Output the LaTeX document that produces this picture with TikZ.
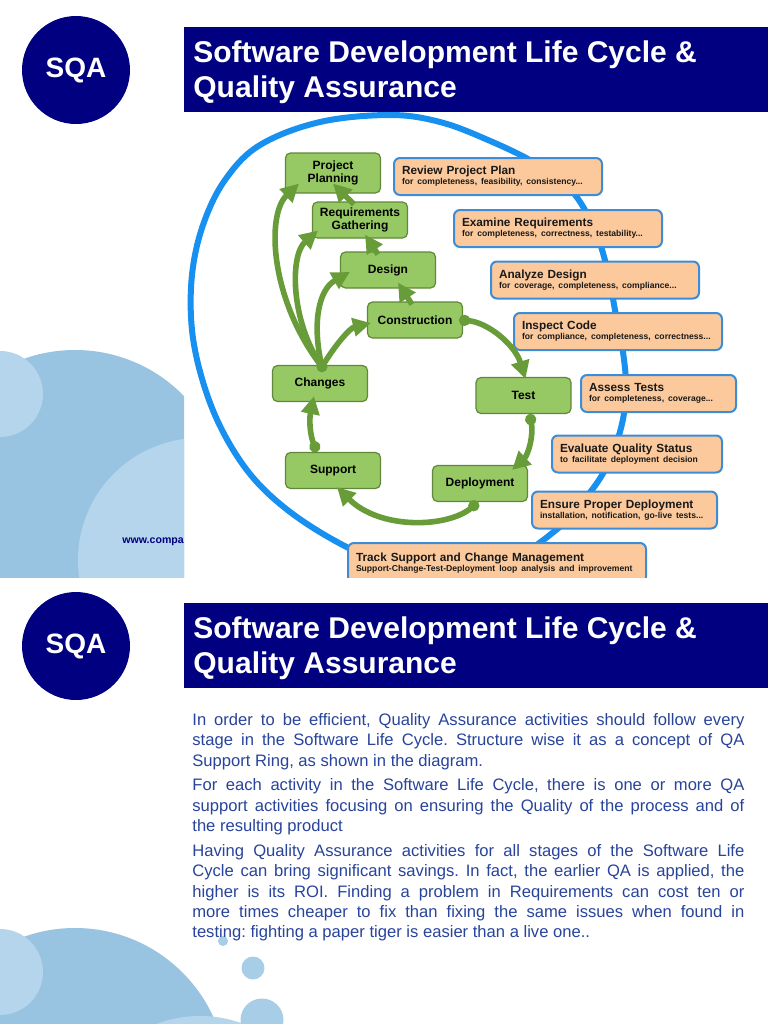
\documentclass[tikz,border=0pt]{standalone}
\usepackage{fontspec}
\setmainfont{Liberation Sans}
\usetikzlibrary{arrows.meta, calc}

\definecolor{sqanavy}{RGB}{0,0,128}
\definecolor{ringblue}{RGB}{24,144,240}
\definecolor{stagefill}{RGB}{150,200,100}
\definecolor{stageline}{RGB}{96,136,56}
\definecolor{flowgreen}{RGB}{104,156,56}
\definecolor{qafill}{RGB}{251,201,155}
\definecolor{qaline}{RGB}{60,140,215}
\definecolor{bubblemid}{RGB}{152,196,226}
\definecolor{bubblelight}{RGB}{180,213,235}
\definecolor{bodyblue}{RGB}{40,68,155}

\newcommand{\qasub}[1]{\mbox{\fontsize{4.3}{5}\selectfont\bfseries #1}}

\frenchspacing
\begin{document}
\begin{tikzpicture}[
  x=0.5pt, y=-0.5pt,
  badge/.style={circle, fill=sqanavy, minimum size=54pt, inner sep=0pt,
    text=white, font=\fontsize{14}{16}\selectfont\bfseries},
  banner/.style={fill=sqanavy, anchor=north west, inner sep=0pt,
    minimum width=292pt, minimum height=42.5pt},
  headline/.style={anchor=north west, inner sep=0pt, align=left, text=white,
    font=\fontsize{15}{17.5}\selectfont\bfseries},
  stage/.style={draw=stageline, fill=stagefill, line width=0.6pt,
    rounded corners=2.5pt, minimum width=47.5pt, minimum height=18pt,
    inner sep=1pt, align=center, font=\fontsize{6}{6.2}\selectfont\bfseries},
  qa/.style={draw=qaline, fill=qafill, line width=1pt, rounded corners=3pt,
    inner xsep=4pt, inner ysep=0pt, minimum height=18.5pt, text width=#1,
    align=left, text=black!90, font=\fontsize{5.9}{6.5}\selectfont\bfseries},
  ring/.style={draw=ringblue, line width=3pt},
  flow/.style={draw=flowgreen, line width=2.8pt,
    arrows={-Triangle[length=9pt,width=9pt]}},
  dotflow/.style={flow, arrows={Circle[length=5.5pt]-Triangle[length=9pt,width=9pt]}},
]

\useasboundingbox (0,0) rectangle (768,1024);
\fill[white] (0,0) rectangle (768,1024);

% ---- slide one: backdrop bubbles and header -------------------------------
\begin{scope}
  \clip (0,0) rectangle (184,577);
  \fill[bubblemid] (75,502) circle[radius=152];
  \fill[bubblelight] (0,394) circle[radius=43];
  \fill[bubblelight] (200,560) circle[radius=122];
\end{scope}
\node[anchor=west, inner sep=0pt, text=sqanavy,
  font=\fontsize{5.3}{6}\selectfont\bfseries] (web) at (122,542) {www.compa};

\node[badge] (sqatop) at (76,70) {SQA};
\node[banner] (bartop) at (184,27) {};
\node[headline] (titletop) at (193,40)
  {Software Development Life Cycle \&\\Quality Assurance};

% ---- the QA support ring ----------------------------------------------------
\begin{scope}
  \clip (184,112) rectangle (768,577);
  \draw[ring] plot[smooth cycle, tension=0.6] coordinates {
    (390,115) (440,122) (488,140) (535,163) (571,190) (594,228) (607,268)
    (615,310) (623,352) (626,390) (621,428) (606,468) (584,500) (556,530)
    (510,560) (440,580) (380,562) (330,538) (285,508) (250,474) (222,430)
    (203,382) (192,330) (192,275) (203,225) (225,180) (260,145) (320,122)};

  \node[qa=96pt] (rev) at (498,176.5)
    {Review Project Plan\\[-1.5pt]\qasub{for completeness, feasibility, consistency...}};
  \node[qa=96pt] (exa) at (558,228.5)
    {Examine Requirements\\[-1.5pt]\qasub{for completeness, correctness, testability...}};
  \node[qa=96pt] (ana) at (595,280)
    {Analyze Design\\[-1.5pt]\qasub{for coverage, completeness, compliance...}};
  \node[qa=96pt] (ins) at (618,331.5)
    {Inspect Code\\[-1.5pt]\qasub{for compliance, completeness, correctness...}};
  \node[qa=69.5pt] (ass) at (658.5,393.5)
    {Assess Tests\\[-1.5pt]\qasub{for completeness, coverage...}};
  \node[qa=77pt] (eva) at (637,454)
    {Evaluate Quality Status\\[-1.5pt]\qasub{to facilitate deployment decision}};
  \node[qa=84.5pt] (ens) at (624.5,510)
    {Ensure Proper Deployment\\[-1.5pt]\qasub{installation, notification, go-live tests...}};
  \node[qa=141pt, minimum height=20pt] (trk) at (497,563)
    {Track Support and Change Management\\[-1.5pt]\qasub{Support-Change-Test-Deployment loop analysis and improvement}};

  % ---- life cycle stages ----------------------------------------------------
  \node[stage, minimum height=20pt] (plan) at (333,173) {Project\\Planning};
  \node[stage] (req)  at (360,220)   {Requirements\\Gathering};
  \node[stage] (des)  at (388,270)   {Design};
  \node[stage] (con)  at (415,320)   {Construction};
  \node[stage] (chg)  at (320,383.5) {Changes};
  \node[stage] (test) at (523.5,395.5) {Test};
  \node[stage] (sup)  at (333,470.5) {Support};
  \node[stage] (dep)  at (480,483.5) {Deployment};

  % changes fan back into the earlier stages
  \fill[flowgreen] ($(chg.north)+(2,2)$) circle[radius=5.5];
  \draw[flow] ($(chg.north)+(2,2)$) .. controls (270,300) and (266,215) .. ($(plan.south west)+(14,-10)$);
  \draw[flow] ($(chg.north)+(2,2)$) .. controls (290,320) and (290,255) .. ($(req.south west)+(6,-8)$);
  \draw[flow] ($(chg.north)+(2,2)$) .. controls (312,325) and (318,290) .. ($(des.west)+(10,2)$);
  \draw[flow] ($(chg.north)+(2,2)$) .. controls (335,345) and (350,328) .. ($(con.west)+(4,3)$);

  % short feedback steps
  \draw[flow] ($(req.north)+(-6,3)$) -- ($(plan.south)+(0,-10)$);
  \draw[flow] ($(des.north)+(-10,3)$) -- ($(req.south)+(5,-4)$);
  \draw[flow] ($(con.north)+(-3,3)$) -- ($(des.south)+(10,-6)$);

  % the main loop
  \draw[dotflow] ($(con.east)+(-4,0)$) .. controls (488,322) and (515,345) .. ($(test.north)+(2,2)$);
  \draw[dotflow] ($(test.south)+(6,0)$) .. controls (534,435) and (528,455) .. ($(dep.north east)+(-16,5)$);
  \draw[dotflow] ($(dep.south)+(-2,0)$) .. controls (448,528) and (380,530) .. ($(sup.south)+(4,-2)$);
  \draw[dotflow] ($(sup.north)+(-16,0)$) .. controls (310,435) and (309,420) .. ($(chg.south)+(-6,-6)$);
\end{scope}

% ---- slide two: header, text and bubbles -----------------------------------
\begin{scope}
  \clip (0,580) rectangle (768,1024);
  \fill[bubblemid] (75,1080) circle[radius=152];
  \fill[bubblelight] (0,972) circle[radius=43];
  \fill[bubblelight] (200,1138) circle[radius=122];
  \fill[bubblemid!85] (223,941) circle[radius=5];
  \fill[bubblemid!85] (253,968) circle[radius=11.5];
  \fill[bubblemid!85] (262,1020) circle[radius=21.5];
\end{scope}

\node[badge] (sqabot) at (76,646) {SQA};
\node[banner] (barbot) at (184,603) {};
\node[headline] (titlebot) at (193,616)
  {Software Development Life Cycle \&\\Quality Assurance};

\node[anchor=north west, inner sep=0pt, text width=276pt, align=justify,
  text=bodyblue, font=\fontsize{8.3}{10.15}\selectfont] (body) at (192,713)
  {\setlength{\parindent}{0pt}\setlength{\parskip}{2.3pt}\noindent
   In order to be efficient, Quality Assurance activities should follow every\linebreak
   stage in the Software Life Cycle. Structure wise it as a concept of QA\linebreak
   Support Ring, as shown in the diagram.\par
   For each activity in the Software Life Cycle, there is one or more QA\linebreak
   support activities focusing on ensuring the Quality of the process and of\linebreak
   the resulting product\par
   Having Quality Assurance activities for all stages of the Software Life\linebreak
   Cycle can bring significant savings. In fact, the earlier QA is applied, the\linebreak
   higher is its ROI. Finding a problem in Requirements can cost ten or\linebreak
   more times cheaper to fix than fixing the same issues when found in\linebreak
   testing: fighting a paper tiger is easier than a live one..};

\end{tikzpicture}
\end{document}
